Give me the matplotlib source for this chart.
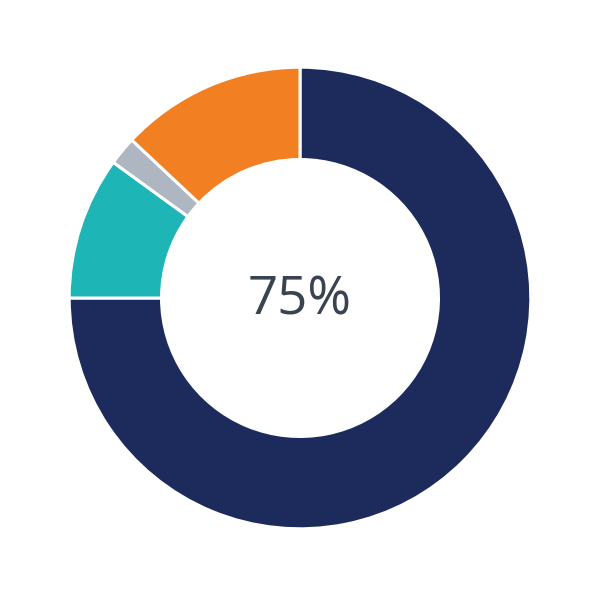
import matplotlib
matplotlib.use("Agg")
import matplotlib.pyplot as plt

labels = ["Navy", "Teal", "Gray", "Orange"]
values = [75, 10, 2, 13]
colors = ["#1c2b5b", "#1db5b6", "#aeb6c1", "#f27f22"]
center_text = "75%"

fig = plt.figure(figsize=(6.0, 5.99), dpi=100)
ax = fig.add_axes([0, 0, 1, 1])
ax.pie(values, colors=colors, startangle=90, counterclock=False,
       radius=1.0,
       wedgeprops=dict(width=0.40, edgecolor="white", linewidth=2.2))
ax.text(0, -0.012, center_text, ha="center", va="center", fontsize=38,
        color="#3a4350", family=["Open Sans", "DejaVu Sans"])
scale = 230.8
ax.set_xlim(-300 / scale, 300 / scale)
ax.set_ylim(-301 / scale, 298 / scale)
ax.set_aspect("auto")
ax.axis("off")
fig.savefig("out.png", dpi=100, facecolor="white")
